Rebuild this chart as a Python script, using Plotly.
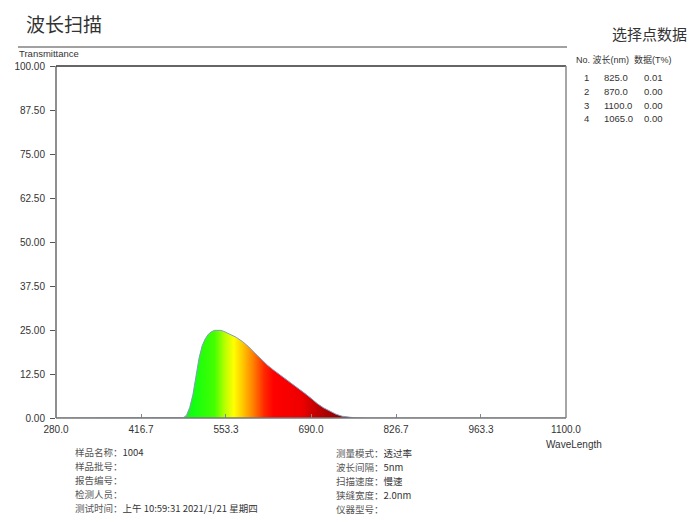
import plotly.graph_objects as go

# ---- data ----
wavelength = [280, 400, 480, 485, 490, 495, 500, 505, 510, 515, 520, 525, 530, 535, 540, 545,
              550, 555, 560, 570, 580, 590, 600, 610, 620, 630, 640, 650, 660, 670, 680, 690,
              700, 710, 720, 730, 740, 750, 760, 780, 900, 1100]
transmittance = [0.0, 0.0, 0.0, 0.1, 0.8, 3.0, 6.5, 11.5, 17.0, 20.5, 22.5, 23.8, 24.5, 24.9, 25.0, 24.9,
                 24.6, 24.2, 23.7, 22.9, 21.7, 20.2, 18.4, 16.6, 15.0, 13.6, 12.3, 11.0, 9.8, 8.5, 7.0, 5.6,
                 4.1, 2.9, 1.9, 1.1, 0.5, 0.2, 0.05, 0.0, 0.0, 0.0]

x_ticks = [280.0, 416.7, 553.3, 690.0, 826.7, 963.3, 1100.0]
y_ticks = [0, 12.5, 25, 37.5, 50, 62.5, 75, 87.5, 100]

sel_no = [1, 2, 3, 4]
sel_wl = [825.0, 870.0, 1100.0, 1065.0]
sel_t = [0.01, 0.00, 0.00, 0.00]

info_left_labels = ["样品名称：", "样品批号：", "报告编号：", "检测人员：", "测试时间："]
info_left_values = ["1004", "", "", "", "上午 10:59:31 2021/1/21 星期四"]
info_right_labels = ["测量模式：", "波长间隔：", "扫描速度：", "狭缝宽度：", "仪器型号："]
info_right_values = ["透过率", "5nm", "慢速", "2.0nm", ""]

# spectrum gradient stops (wavelength -> colour)
grad_wl = [485, 500, 535, 552, 566, 580, 597, 615, 630, 675, 700, 730, 760]
grad_col = ["#33dd33", "#11ff11", "#44ff00", "#bbff00", "#ffff00", "#ffc800", "#ff8000",
            "#ff2800", "#ff0000", "#ee0000", "#c00000", "#990000", "#800000"]

# ---- layout geometry (screen pixels; page body has an 8px margin) ----
VW, VH = 699, 522
OFF = 8
W, H = VW - OFF, VH - OFF
L, R, T, B = 56, 566, 66, 418


def px(x):
    return (x - L) / (R - L)


def py(y):
    return (B - y) / (B - T)


CJK = "Noto Sans CJK SC"
SANS = "Liberation Sans, Arial, sans-serif"

g0, g1 = grad_wl[0], grad_wl[-1]
colorscale = [[(w - g0) / (g1 - g0), c] for w, c in zip(grad_wl, grad_col)]

fig = go.Figure()
fig.add_trace(go.Scatter(
    x=wavelength, y=transmittance, mode="lines",
    line=dict(color="#7f9cc0", width=1),
    fill="tozeroy",
    fillgradient=dict(type="horizontal", colorscale=colorscale, start=g0, stop=g1),
    hoverinfo="x+y", showlegend=False,
))

fig.update_layout(
    width=W, height=H,
    margin=dict(l=L - OFF, r=VW - R, t=T - OFF, b=VH - B, pad=0, autoexpand=False),
    paper_bgcolor="white", plot_bgcolor="white",
    font=dict(family=SANS, size=10, color="#333"),
    xaxis=dict(range=[280, 1100], tickvals=x_ticks, ticktext=[f"{v:.1f}" for v in x_ticks],
               ticks="inside", ticklen=4, tickcolor="#888", showgrid=False, zeroline=False,
               showline=False, tickfont=dict(size=10, color="#333"), ticklabelstandoff=4,
               automargin=False),
    yaxis=dict(range=[0, 100], tickvals=y_ticks, ticktext=[f"{v:.2f}" for v in y_ticks],
               ticks="outside", ticklen=5, tickcolor="#555", showgrid=False, zeroline=False,
               showline=False, tickfont=dict(size=10, color="#333"), ticklabelstandoff=3,
               automargin=False),
)

# frame
frame = [
    (0, 0, 0, 1, "#444", 1.2),
    (0, 1, 1, 1, "#333", 1.5),
    (1, 0, 1, 1, "#888", 1.5),
    (0, 0, 1, 0, "#777", 1.5),
]
for x0, y0, x1, y1, c, w in frame:
    fig.add_shape(type="line", xref="paper", yref="paper", x0=x0, y0=y0, x1=x1, y1=y1,
                  line=dict(color=c, width=w))
# rule under title
fig.add_shape(type="line", xref="paper", yref="paper", x0=px(18), x1=px(567), y0=py(47), y1=py(47),
              line=dict(color="#444", width=1))

annotations = []


def txt(x, y, s, size=10, font=SANS, color="#333", xanchor="left"):
    annotations.append(dict(x=px(x), y=py(y), xref="paper", yref="paper", text=s, showarrow=False,
                            xanchor=xanchor, yanchor="middle", font=dict(family=font, size=size, color=color)))


txt(24, 23, "波长扫描", size=19, font=CJK, color="#333")
txt(689, 33, "选择点数据", size=15, font=CJK, color="#333", xanchor="right")
txt(17, 53, "Transmittance", size=9.5, color="#333")
txt(574, 444, "WaveLength", size=10, color="#333", xanchor="center")

# selected point table
txt(574, 59, "No. <span style='font-family:Noto Sans CJK SC'>波长</span>(nm)&nbsp;&nbsp;<span style='font-family:Noto Sans CJK SC'>数据</span>(T%)",
    size=9, color="#333")
for i, (n, wv, tv) in enumerate(zip(sel_no, sel_wl, sel_t)):
    yy = 77 + i * 14
    txt(586, yy, str(n), size=9.5, xanchor="center")
    txt(602, yy, f"{wv:.1f}", size=9.5)
    txt(642, yy, f"{tv:.2f}", size=9.5)

# info block
for i, (lab, val) in enumerate(zip(info_left_labels, info_left_values)):
    yy = 452 + i * 14.1
    txt(73, yy, f"<span style='color:#555'>{lab}</span>{val}", size=9.5, font=CJK, color="#333")
for i, (lab, val) in enumerate(zip(info_right_labels, info_right_values)):
    yy = 453 + i * 14.1
    txt(334, yy, f"<span style='color:#555'>{lab}</span>{val}", size=9.5, font=CJK, color="#333")

fig.update_layout(annotations=annotations)
fig.write_html("out.html")
